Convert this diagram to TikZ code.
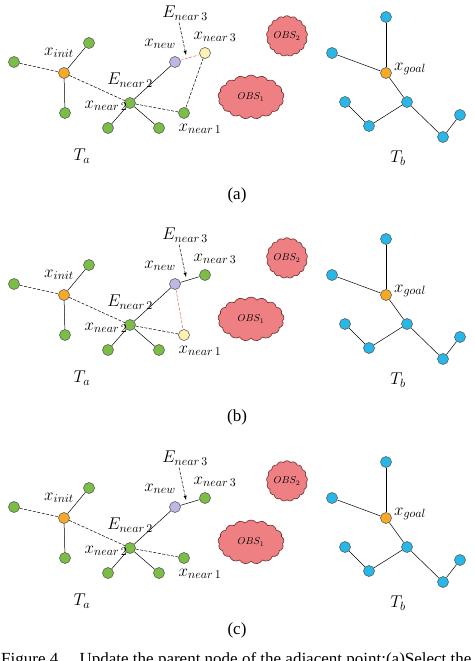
\RequirePackage{fix-cm}
\documentclass[tikz,border=0pt]{standalone}
\usepackage{fontspec}
\setmainfont{Liberation Serif}
\usetikzlibrary{shapes.symbols,arrows}

\definecolor{leafgreen}{RGB}{122,190,72}
\definecolor{rootorange}{RGB}{246,170,40}
\definecolor{treeblue}{RGB}{40,184,232}
\definecolor{newlilac}{RGB}{188,186,228}
\definecolor{pickyellow}{RGB}{255,241,178}
\definecolor{obspink}{RGB}{238,128,132}
\definecolor{obsedge}{RGB}{110,45,45}
\definecolor{rewire}{RGB}{228,100,100}

\tikzset{
  vtx/.style={circle, draw=black!70, line width=0.5pt, minimum size=11pt, inner sep=0pt},
  dashlink/.style={dash pattern=on 3pt off 1.5pt},
  lbl/.style={font=\fontsize{17}{20}\selectfont, inner sep=0pt},
  obs/.style={cloud, cloud puffs=17, cloud puff arc=110, fill=obspink, draw=obsedge,
    line width=0.6pt, inner sep=0pt, font=\fontsize{10}{12}\selectfont}
}

\begin{document}
\begin{tikzpicture}[x=1pt, y=-1pt, line width=0.5pt]
	\useasboundingbox (0,0) rectangle (474,661);

	% three panels, only the rewired edges change
	\foreach \p/\dy/\k/\cone/\cthree in {a/0/0/leafgreen/pickyellow, b/222/1/pickyellow/leafgreen, c/445/2/leafgreen/leafgreen} {
	\begin{scope}[shift={(0,\dy)}]
		% tree T_a
		\node[vtx, fill=leafgreen]  (la\p) at (14,62) {};
		\node[vtx, fill=rootorange] (init\p) at (64,73) {};
		\node[vtx, fill=leafgreen]  (lb\p) at (89,43) {};
		\node[vtx, fill=leafgreen]  (lc\p) at (65,113) {};
		\node[vtx, fill=leafgreen]  (near2\p) at (130,103) {};
		\node[vtx, fill=leafgreen]  (ld\p) at (108,128) {};
		\node[vtx, fill=leafgreen]  (le\p) at (159,128) {};
		\node[vtx, fill=\cone]      (near1\p) at (184,113) {};
		\node[vtx, fill=newlilac]   (new\p) at (175,62) {};
		\node[vtx, fill=\cthree]    (near3\p) at (205,53) {};

		\draw[dashlink] (la\p) -- (init\p);
		\draw (init\p) -- (lb\p);
		\draw (init\p) -- (lc\p);
		\draw[dashlink] (init\p) -- (near2\p);
		\draw (near2\p) -- (ld\p);
		\draw (near2\p) -- (le\p);
		\draw (near2\p) -- (new\p);
		\draw[dashlink] (near2\p) -- (near1\p);
		\ifcase\k
			\draw[dashlink] (near1\p) -- (near3\p);
			\draw[dashlink, draw=rewire] (new\p) -- (near3\p);
		\or
			\draw[dashlink, draw=rewire] (new\p) -- (near1\p);
			\draw (new\p) -- (near3\p);
		\or
			\draw (new\p) -- (near3\p);
		\fi

		\node[lbl] (tinit\p) at (59,53) {$x_{init}$};
		\node[lbl] (tE2\p) at (130,80) {$E_{near\,2}$};
		\node[lbl] (tnear2\p) at (106,106) {$x_{near\,2}$};
		\node[lbl] (tnew\p) at (160,44) {$x_{new}$};
		\node[lbl] (tnear3\p) at (215,37) {$x_{near\,3}$};
		\node[lbl] (tE3\p) at (185,13) {$E_{near\,3}$};
		\node[lbl] (tnear1\p) at (200,129) {$x_{near\,1}$};
		\node[lbl] (tTa\p) at (82,156) {$T_a$};
		\coordinate (tip\p) at (186,55);
		\draw[dashlink, -latex] ([xshift=-6pt, yshift=-2pt]tE3\p.south) -- (tip\p);

		% obstacles
		\node[obs, minimum width=41pt, minimum height=28pt] (obsB\p) at (287,36) {$OBS_2$};
		\node[obs, minimum width=66pt, minimum height=44pt] (obsA\p) at (251,97) {$OBS_1$};

		% tree T_b
		\node[vtx, fill=treeblue]   (ta\p) at (386,17) {};
		\node[vtx, fill=rootorange] (goal\p) at (386,73) {};
		\node[vtx, fill=treeblue]   (tb\p) at (332,53) {};
		\node[vtx, fill=treeblue]   (tc\p) at (407,102) {};
		\node[vtx, fill=treeblue]   (td\p) at (345,102) {};
		\node[vtx, fill=treeblue]   (te\p) at (369,126) {};
		\node[vtx, fill=treeblue]   (tf\p) at (443,137) {};
		\node[vtx, fill=treeblue]   (tg\p) at (460,115) {};

		\draw[line width=1pt] (ta\p) -- (goal\p);
		\draw (tb\p) -- (goal\p);
		\draw (goal\p) -- (tc\p);
		\draw (tc\p) -- (te\p);
		\draw (te\p) -- (td\p);
		\draw (tc\p) -- (tf\p);
		\draw (tf\p) -- (tg\p);

		\node[lbl] (tgoal\p) at (410,69) {$x_{goal}$};
		\node[lbl] (tTb\p) at (398,158) {$T_b$};
	\end{scope}
	}

	\node[lbl] (capa) at (237,195) {(a)};
	\node[lbl] (capb) at (237,417) {(b)};
	\node[lbl] (capc) at (237,630) {(c)};
	\node[lbl, anchor=base west] (figcap) at (1,664) {Figure 4\quad\ Update the parent node of the adjacent point:(a)Select the};
\end{tikzpicture}
\end{document}
